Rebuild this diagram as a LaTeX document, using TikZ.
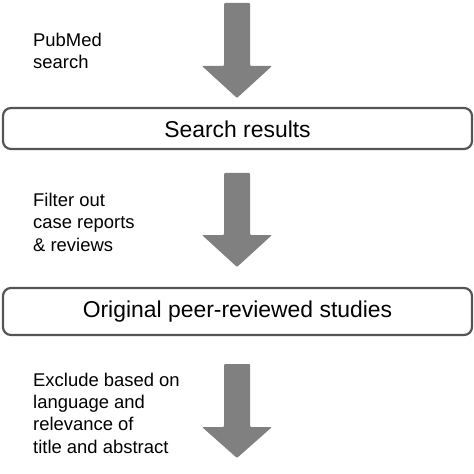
\documentclass[tikz,border=0pt]{standalone}
\usepackage{fontspec}
\setmainfont{Liberation Sans}
\definecolor{arrowgray}{HTML}{808080}
\definecolor{boxgray}{HTML}{555555}
\begin{document}
\begin{tikzpicture}[x=1bp,y=-1bp,
  stagebox/.style={draw=boxgray,line width=2.2bp,rounded corners=8bp,fill=white},
  stagetext/.style={font=\fontsize{23}{27}\selectfont,inner sep=0pt},
  steplabel/.style={font=\fontsize{18.5}{22.3}\selectfont,align=left,anchor=base west,inner sep=0pt},
  blockarrow/.style={fill=arrowgray,draw=none}
]
\useasboundingbox (0,0) rectangle (474,474);
% block arrows
\newcommand{\blockarr}[3]{% top, headtop, tip
  \fill[blockarrow,rounded corners=1bp] (224,#1) -- (250,#1) -- (250,#2) -- (272,#2) -- (237,#3) -- (202,#2) -- (224,#2) -- cycle;}
\blockarr{3}{66}{98}
\blockarr{173}{235}{267}
\blockarr{364}{427}{458}
% boxes
\draw[stagebox] (3,108) rectangle (472,149);
\node[stagetext] (res) at (237.5,129) {Search results};
\draw[stagebox] (3,288) rectangle (472,335);
\node[stagetext] (orig) at (237.5,312) {Original peer-reviewed studies};
% labels (anchored at the baseline of the last line)
\node[steplabel] (l1) at (33,69) {PubMed\\search};
\node[steplabel] (l2) at (33,251) {Filter out\\case reports\\\& reviews};
\node[steplabel] (l3) at (33,453) {Exclude based on\\language and\\relevance of\\title and abstract};
\end{tikzpicture}
\end{document}
